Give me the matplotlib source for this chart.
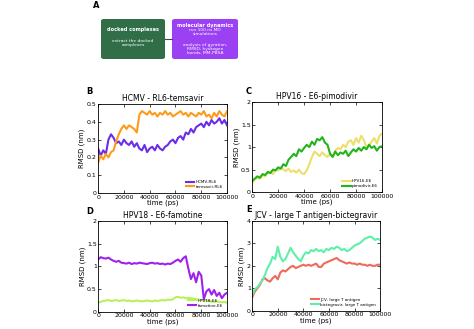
import matplotlib
matplotlib.use('Agg')
import matplotlib.pyplot as plt
import numpy as np
from matplotlib.patches import FancyBboxPatch

plt.rcParams['font.family'] = 'DejaVu Sans'

# time axis in ps, one reading every 2000 ps
time = np.arange(0, 100001, 2000)

# B: HCMV - RL6-temsavir
hcmv_rl6 = [0.25, 0.21, 0.24, 0.22, 0.30, 0.33, 0.31, 0.28, 0.29, 0.27,
            0.30, 0.28, 0.27, 0.29, 0.26, 0.28, 0.25, 0.24, 0.27, 0.23,
            0.25, 0.26, 0.24, 0.27, 0.25, 0.24, 0.26, 0.27, 0.29, 0.30,
            0.28, 0.31, 0.32, 0.30, 0.34, 0.33, 0.36, 0.34, 0.37, 0.38,
            0.39, 0.37, 0.40, 0.38, 0.41, 0.39, 0.40, 0.42, 0.39, 0.41, 0.38]
temsavir_rl6 = [0.17, 0.21, 0.19, 0.22, 0.20, 0.23, 0.24, 0.29, 0.33, 0.36,
                0.38, 0.36, 0.38, 0.37, 0.36, 0.34, 0.44, 0.46, 0.45, 0.44,
                0.46, 0.44, 0.45, 0.43, 0.45, 0.44, 0.46, 0.44, 0.45, 0.43,
                0.44, 0.45, 0.46, 0.44, 0.45, 0.43, 0.45, 0.44, 0.43, 0.45,
                0.44, 0.46, 0.43, 0.44, 0.42, 0.45, 0.43, 0.46, 0.44, 0.43, 0.46]

# C: HPV16 - E6-pimodivir
hpv16_e6 = [0.20, 0.28, 0.32, 0.30, 0.38, 0.35, 0.42, 0.45, 0.40, 0.50,
            0.48, 0.55, 0.50, 0.47, 0.52, 0.45, 0.48, 0.43, 0.50, 0.42,
            0.40, 0.48, 0.62, 0.78, 0.90, 0.85, 0.80, 0.88, 0.82, 0.78,
            0.85, 0.80, 0.92, 0.98, 0.95, 1.05, 1.00, 1.12, 1.15, 1.05,
            1.20, 1.10, 1.25, 1.15, 1.00, 1.05, 1.12, 1.20, 1.08, 1.25, 1.30]
pimodivir_e6 = [0.25, 0.30, 0.35, 0.32, 0.40, 0.38, 0.45, 0.42, 0.50, 0.48,
                0.55, 0.52, 0.62, 0.58, 0.72, 0.78, 0.85, 0.80, 0.95, 0.90,
                0.98, 1.05, 1.00, 1.12, 1.05, 1.18, 1.15, 1.22, 1.10, 1.05,
                0.85, 0.78, 0.90, 0.82, 0.88, 0.85, 0.92, 0.80, 0.88, 0.95,
                0.90, 0.98, 0.92, 1.00, 0.95, 1.05, 0.98, 1.02, 0.92, 1.00, 1.02]

# D: HPV18 - E6-famotine
hpv18_e6 = [0.20, 0.22, 0.24, 0.25, 0.26, 0.24, 0.25, 0.26, 0.24, 0.25,
            0.26, 0.24, 0.25, 0.23, 0.24, 0.25, 0.24, 0.23, 0.24, 0.25,
            0.24, 0.23, 0.25, 0.24, 0.25, 0.26, 0.25, 0.27, 0.26, 0.28,
            0.32, 0.33, 0.31, 0.32, 0.30, 0.31, 0.30, 0.29, 0.28, 0.27,
            0.26, 0.25, 0.26, 0.24, 0.23, 0.22, 0.23, 0.22, 0.21, 0.22, 0.20]
famotine_e6 = [1.15, 1.20, 1.18, 1.17, 1.19, 1.15, 1.12, 1.10, 1.12, 1.08,
               1.07, 1.06, 1.08, 1.05, 1.07, 1.06, 1.08, 1.07, 1.06, 1.05,
               1.07, 1.08, 1.06, 1.07, 1.05, 1.06, 1.04, 1.06, 1.05, 1.08,
               1.12, 1.15, 1.10, 1.18, 1.22, 0.95, 0.72, 0.85, 0.65, 0.88,
               0.80, 0.28, 0.45, 0.50, 0.38, 0.48, 0.35, 0.42, 0.30, 0.38, 0.42]

# E: JCV - large T antigen-bictegravir
jcv_tag = [0.60, 0.85, 1.00, 1.15, 1.40, 1.45, 1.35, 1.30, 1.45, 1.55,
           1.40, 1.70, 1.80, 1.75, 1.85, 1.95, 2.00, 1.90, 1.95, 2.00,
           2.05, 2.00, 2.05, 2.00, 2.05, 2.10, 1.95, 1.95, 2.10, 2.15,
           2.20, 2.25, 2.30, 2.35, 2.25, 2.20, 2.15, 2.10, 2.15, 2.10,
           2.10, 2.05, 2.10, 2.05, 2.05, 2.00, 2.05, 2.00, 2.00, 2.05, 2.05]
bictegravir_tag = [0.70, 0.95, 1.05, 1.20, 1.35, 1.60, 1.90, 2.10, 2.40, 2.30,
                   2.85, 2.40, 2.20, 2.30, 2.55, 2.80, 2.60, 2.45, 2.30, 2.20,
                   2.45, 2.60, 2.55, 2.70, 2.65, 2.75, 2.65, 2.70, 2.60, 2.75,
                   2.70, 2.80, 2.75, 2.85, 2.80, 2.70, 2.75, 2.65, 2.70, 2.80,
                   2.90, 2.95, 3.00, 3.10, 3.20, 3.25, 3.30, 3.25, 3.15, 3.20, 3.15]

x_ticks = [0, 20000, 40000, 60000, 80000, 100000]
W, H = 474, 329

panels = [
    # label, label pixel pos, title, axes rect, ylim, yticks, series
    ('B', (86, 91), 'HCMV - RL6-temsavir', [0.207, 0.413, 0.272, 0.271], 0.5,
     [0, 0.1, 0.2, 0.3, 0.4, 0.5],
     [(hcmv_rl6, '#6a2ee8', 'HCMV-RL6'), (temsavir_rl6, '#ff9a1a', 'temsavir-RL6')]),
    ('C', (246, 91), 'HPV16 - E6-pimodivir', [0.532, 0.416, 0.274, 0.274], 2,
     [0, 0.5, 1, 1.5, 2],
     [(hpv16_e6, '#ecdf6a', 'HPV16-E6'), (pimodivir_e6, '#22b41c', 'pimodivir-E6')]),
    ('D', (86, 212), 'HPV18 - E6-famotine', [0.207, 0.052, 0.272, 0.277], 2,
     [0, 0.5, 1, 1.5, 2],
     [(hpv18_e6, '#b9f05e', 'HPV18-E6'), (famotine_e6, '#a020f0', 'famotine-E6')]),
    ('E', (246, 210), 'JCV - large T antigen-bictegravir', [0.532, 0.055, 0.270, 0.274], 4,
     [0, 1, 2, 3, 4],
     [(jcv_tag, '#ee6a5a', 'JCV- large T antigen'),
      (bictegravir_tag, '#5ef0a8', 'bictegravir- large T antigen')]),
]

fig = plt.figure(figsize=(4.74, 3.29), dpi=100)

for label, lpos, title, rect, ymax, yticks, series in panels:
    ax = fig.add_axes(rect)
    for values, color, name in series:
        ax.plot(time, values, color=color, lw=1.5, label=name)
    ax.set_xlim(0, 100000)
    ax.set_ylim(0, ymax)
    ax.set_xticks(x_ticks)
    ax.set_yticks(yticks)
    ax.set_yticklabels([f'{t:g}' for t in yticks])
    ax.tick_params(direction='in', top=True, right=True, labelsize=4.5,
                   length=2, width=0.5, pad=1)
    for s in ax.spines.values():
        s.set_linewidth(0.6)
    ax.set_title(title, fontsize=5.5, pad=2)
    ax.set_xlabel('time (ps)', fontsize=5, labelpad=0)
    ax.set_ylabel('RMSD (nm)', fontsize=5, labelpad=1)
    ax.legend(loc='lower right', fontsize=3, frameon=False, handlelength=2,
              handletextpad=0.3, labelspacing=0.2, borderaxespad=0.6)
    fig.text(lpos[0] / W, 1 - lpos[1] / H, label, fontsize=6,
             fontweight='bold', va='center')

# panel A: workflow boxes
fig.text(93 / W, 1 - 6 / H, 'A', fontsize=6, fontweight='bold', va='center')
green = FancyBboxPatch((101 / W, 1 - 59 / H), 64 / W, 40 / H,
                       boxstyle='round,pad=0,rounding_size=0.006',
                       transform=fig.transFigure, fc='#2f6e47', ec='none')
purple = FancyBboxPatch((172 / W, 1 - 59 / H), 66 / W, 40 / H,
                        boxstyle='round,pad=0,rounding_size=0.006',
                        transform=fig.transFigure, fc='#9b40f2', ec='none')
fig.patches.extend([green, purple])
fig.add_artist(plt.Line2D([165 / W, 172 / W], [1 - 39 / H, 1 - 39 / H],
                          transform=fig.transFigure, color='#444444', lw=0.8))
fig.text(133 / W, 1 - 29 / H, 'docked complexes', fontsize=3.6,
         fontweight='bold', color='white', ha='center', va='center')
fig.text(133 / W, 1 - 43 / H, 'extract the docked\ncomplexes', fontsize=3.2,
         color='white', ha='center', va='center', linespacing=1.0)
fig.text(205 / W, 1 - 25 / H, 'molecular dynamics', fontsize=3.6,
         fontweight='bold', color='white', ha='center', va='center')
fig.text(205 / W, 1 - 32 / H, 'run 100 ns MD\nsimulations', fontsize=3.2,
         color='white', ha='center', va='center', linespacing=1.0)
fig.text(205 / W, 1 - 49 / H, 'analysis of gyration,\nRMSD, hydrogen\nbonds, MM-PBSA',
         fontsize=3.2, color='white', ha='center', va='center', linespacing=1.0)

fig.savefig('out.png', dpi=100)
